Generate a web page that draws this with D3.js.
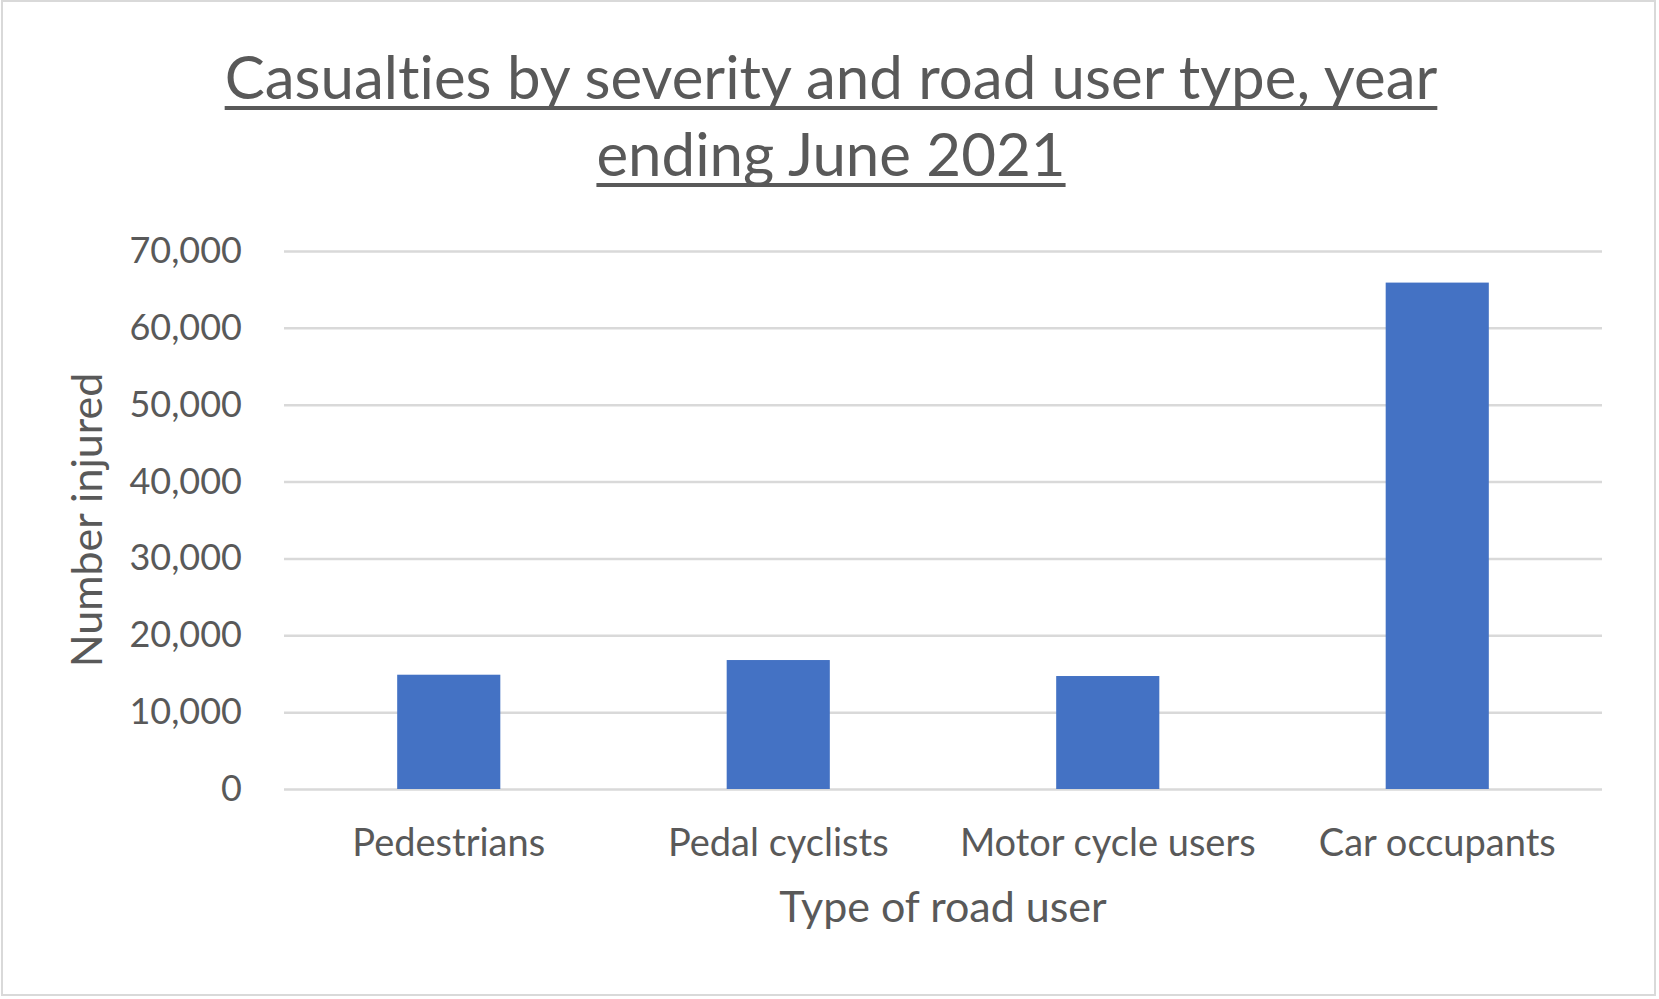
<!DOCTYPE html>
<html>
<head>
<meta charset="utf-8">
<script src="https://cdn.jsdelivr.net/npm/d3@7"></script>
<style>
  body { margin: 0; background: #fff; }
  svg text { font-family: Lato, "Open Sans", sans-serif; font-variant-ligatures: none; }
</style>
</head>
<body>
<div id="chart"></div>
<script>
// values
const roadUsers = ["Pedestrians", "Pedal cyclists", "Motor cycle users", "Car occupants"];
const injured = [14870, 16780, 14700, 65890];
const yTicks = [0, 10000, 20000, 30000, 40000, 50000, 60000, 70000];
const titleLines = ["Casualties by severity and road user type, year", "ending June 2021"];

const width = 1659, height = 999;
const margin = { top: 251, right: 57, bottom: 210, left: 284 };
const plotW = width - margin.left - margin.right;
const plotH = height - margin.top - margin.bottom;
const textColor = "#595959";

const data = roadUsers.map((d, i) => ({ name: d, value: injured[i] }));

const svg = d3.select("#chart")
  .append("svg")
  .attr("width", width)
  .attr("height", height);

// chart border
svg.append("rect")
  .attr("x", 2).attr("y", 1)
  .attr("width", width - 6).attr("height", height - 5)
  .attr("fill", "#fff")
  .attr("stroke", "#d9d9d9")
  .attr("stroke-width", 2);

const g = svg.append("g")
  .attr("transform", "translate(" + margin.left + "," + margin.top + ")");

const xScale = d3.scaleBand()
  .domain(roadUsers)
  .range([0, plotW])
  .paddingInner(0.687)
  .paddingOuter(0.3435);

const yScale = d3.scaleLinear()
  .domain([0, 70000])
  .range([plotH, 0]);

// gridlines + y labels
const yAxis = g.append("g")
  .attr("class", "y-axis")
  .call(d3.axisLeft(yScale)
    .tickValues(yTicks)
    .tickSize(-plotW)
    .tickPadding(42)
    .tickFormat(d3.format(",")));
yAxis.select(".domain").remove();
yAxis.selectAll(".tick line")
  .attr("stroke", "#d9d9d9")
  .attr("stroke-width", 2.5);
yAxis.selectAll(".tick text")
  .attr("fill", textColor)
  .style("font-size", "36px");

// bars
g.selectAll(".bar")
  .data(data)
  .enter()
  .append("rect")
  .attr("class", "bar")
  .attr("x", d => xScale(d.name))
  .attr("y", d => yScale(d.value))
  .attr("width", xScale.bandwidth())
  .attr("height", d => plotH - yScale(d.value))
  .attr("fill", "#4472c4");

// x labels
const xAxis = g.append("g")
  .attr("class", "x-axis")
  .attr("transform", "translate(0," + plotH + ")")
  .call(d3.axisBottom(xScale).tickSize(0).tickPadding(40));
xAxis.select(".domain").remove();
xAxis.selectAll(".tick text")
  .attr("fill", textColor)
  .style("font-size", "38px");

// axis titles
g.append("text")
  .attr("x", plotW / 2)
  .attr("y", plotH + 133)
  .attr("text-anchor", "middle")
  .attr("fill", textColor)
  .style("font-size", "43px")
  .text("Type of road user");

g.append("text")
  .attr("transform", "rotate(-90)")
  .attr("x", -plotH / 2)
  .attr("y", -182)
  .attr("text-anchor", "middle")
  .attr("fill", textColor)
  .style("font-size", "43px")
  .text("Number injured");

// title, with a solid underline drawn under each line
const titleY = i => 99 + i * 77;
const titles = svg.selectAll(".title")
  .data(titleLines)
  .enter()
  .append("text")
  .attr("class", "title")
  .attr("x", 831)
  .attr("y", (d, i) => titleY(i))
  .attr("text-anchor", "middle")
  .attr("fill", textColor)
  .style("font-size", "60px")
  .text(d => d);

titles.each(function (d, i) {
  const len = this.getComputedTextLength();
  svg.append("line")
    .attr("x1", 831 - len / 2)
    .attr("x2", 831 + len / 2)
    .attr("y1", titleY(i) + 9)
    .attr("y2", titleY(i) + 9)
    .attr("stroke", textColor)
    .attr("stroke-width", 4);
});
</script>
</body>
</html>
